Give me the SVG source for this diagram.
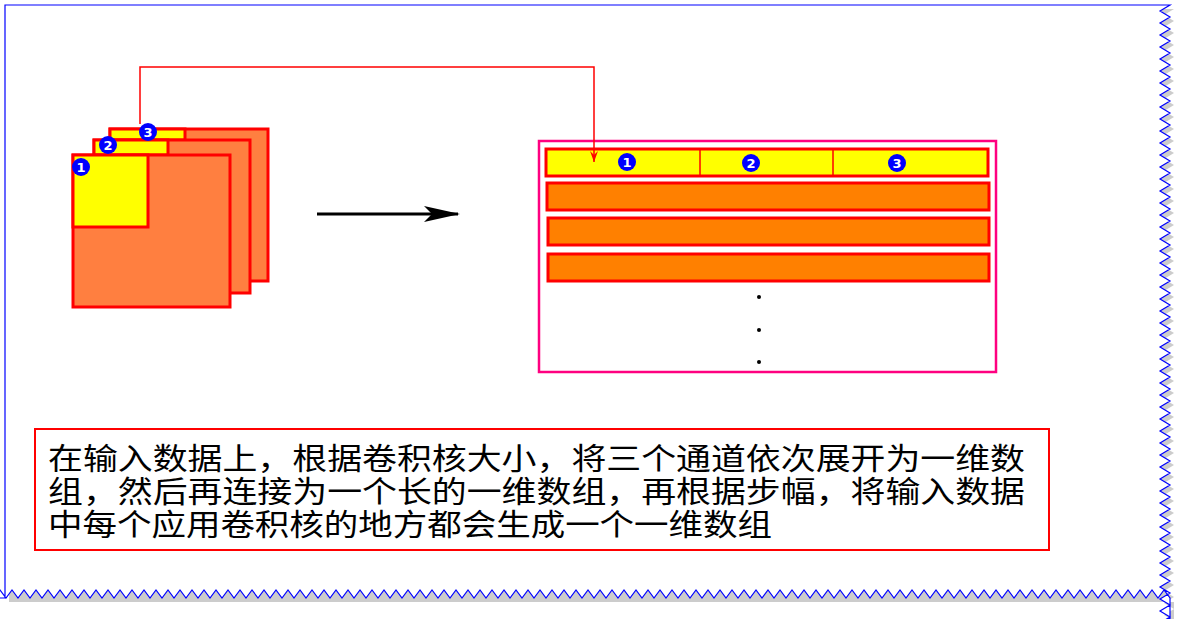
<svg xmlns="http://www.w3.org/2000/svg" width="1192" height="619" viewBox="0 0 1192 619">
<defs>
<style>
.ch{font-family:"Noto Sans CJK SC","Noto Sans",sans-serif;font-size:30px;fill:#000}
.num{font-family:"DejaVu Sans",sans-serif;font-size:13px;font-weight:bold;fill:#fff;text-anchor:middle}
.lay{fill:#ff7f40;stroke:#ff0000;stroke-width:3}
.yl{fill:#ffff00;stroke:#ff0000;stroke-width:3}
.bar{fill:#ff8000;stroke:#ff0000;stroke-width:3}
.dot{fill:#0000ff}
</style>
<marker id="ar" markerWidth="10" markerHeight="12" refX="5" refY="11" orient="0" markerUnits="userSpaceOnUse"><path d="M1,0 L5,11 L9,0 L5,4 z" fill="#ff0000"/></marker>
<marker id="ab" markerWidth="36" markerHeight="20" refX="34" refY="10" orient="auto" markerUnits="userSpaceOnUse"><path d="M0,2 L36,10 L0,18 L8,10 z" fill="#000"/></marker>
</defs>
<g id="frame">
<path transform="translate(4,4)" fill="#999" opacity="0.5" d="M1170,5 l-10 6 l10 6 l-10 6 l10 6 l-10 6 l10 6 l-10 6 l10 6 l-10 6 l10 6 l-10 6 l10 6 l-10 6 l10 6 l-10 6 l10 6 l-10 6 l10 6 l-10 6 l10 6 l-10 6 l10 6 l-10 6 l10 6 l-10 6 l10 6 l-10 6 l10 6 l-10 6 l10 6 l-10 6 l10 6 l-10 6 l10 6 l-10 6 l10 6 l-10 6 l10 6 l-10 6 l10 6 l-10 6 l10 6 l-10 6 l10 6 l-10 6 l10 6 l-10 6 l10 6 l-10 6 l10 6 l-10 6 l10 6 l-10 6 l10 6 l-10 6 l10 6 l-10 6 l10 6 l-10 6 l10 6 l-10 6 l10 6 l-10 6 l10 6 l-10 6 l10 6 l-10 6 l10 6 l-10 6 l10 6 l-10 6 l10 6 l-10 6 l10 6 l-10 6 l10 6 l-10 6 l10 6 l-10 6 l10 6 l-10 6 l10 6 l-10 6 l10 6 l-10 6 l10 6 l-10 6 l10 6 l-10 6 l10 6 l-10 6 l10 6 l-10 6 l10 6 l-10 6 l10 6 l-10 6 l10 6 l-10 6 l10 6 l-10 6 l10 6 l-10 6 l10 6 l-10 6 l10 6 L1170,598 L5,598 L5,5 z"/>
<path fill="#fff" stroke="#0000ff" stroke-width="1.2" d="M5,5 L1170,5 l-10 6 l10 6 l-10 6 l10 6 l-10 6 l10 6 l-10 6 l10 6 l-10 6 l10 6 l-10 6 l10 6 l-10 6 l10 6 l-10 6 l10 6 l-10 6 l10 6 l-10 6 l10 6 l-10 6 l10 6 l-10 6 l10 6 l-10 6 l10 6 l-10 6 l10 6 l-10 6 l10 6 l-10 6 l10 6 l-10 6 l10 6 l-10 6 l10 6 l-10 6 l10 6 l-10 6 l10 6 l-10 6 l10 6 l-10 6 l10 6 l-10 6 l10 6 l-10 6 l10 6 l-10 6 l10 6 l-10 6 l10 6 l-10 6 l10 6 l-10 6 l10 6 l-10 6 l10 6 l-10 6 l10 6 l-10 6 l10 6 l-10 6 l10 6 l-10 6 l10 6 l-10 6 l10 6 l-10 6 l10 6 l-10 6 l10 6 l-10 6 l10 6 l-10 6 l10 6 l-10 6 l10 6 l-10 6 l10 6 l-10 6 l10 6 l-10 6 l10 6 l-10 6 l10 6 l-10 6 l10 6 l-10 6 l10 6 l-10 6 l10 6 l-10 6 l10 6 l-10 6 l10 6 l-10 6 l10 6 l-10 6 l10 6 l-10 6 l10 6 l-10 6 l10 6 L1170,598 l-6 -8 l-6 8 l-6 -8 l-6 8 l-6 -8 l-6 8 l-6 -8 l-6 8 l-6 -8 l-6 8 l-6 -8 l-6 8 l-6 -8 l-6 8 l-6 -8 l-6 8 l-6 -8 l-6 8 l-6 -8 l-6 8 l-6 -8 l-6 8 l-6 -8 l-6 8 l-6 -8 l-6 8 l-6 -8 l-6 8 l-6 -8 l-6 8 l-6 -8 l-6 8 l-6 -8 l-6 8 l-6 -8 l-6 8 l-6 -8 l-6 8 l-6 -8 l-6 8 l-6 -8 l-6 8 l-6 -8 l-6 8 l-6 -8 l-6 8 l-6 -8 l-6 8 l-6 -8 l-6 8 l-6 -8 l-6 8 l-6 -8 l-6 8 l-6 -8 l-6 8 l-6 -8 l-6 8 l-6 -8 l-6 8 l-6 -8 l-6 8 l-6 -8 l-6 8 l-6 -8 l-6 8 l-6 -8 l-6 8 l-6 -8 l-6 8 l-6 -8 l-6 8 l-6 -8 l-6 8 l-6 -8 l-6 8 l-6 -8 l-6 8 l-6 -8 l-6 8 l-6 -8 l-6 8 l-6 -8 l-6 8 l-6 -8 l-6 8 l-6 -8 l-6 8 l-6 -8 l-6 8 l-6 -8 l-6 8 l-6 -8 l-6 8 l-6 -8 l-6 8 l-6 -8 l-6 8 l-6 -8 l-6 8 l-6 -8 l-6 8 l-6 -8 l-6 8 l-6 -8 l-6 8 l-6 -8 l-6 8 l-6 -8 l-6 8 l-6 -8 l-6 8 l-6 -8 l-6 8 l-6 -8 l-6 8 l-6 -8 l-6 8 l-6 -8 l-6 8 l-6 -8 l-6 8 l-6 -8 l-6 8 l-6 -8 l-6 8 l-6 -8 l-6 8 l-6 -8 l-6 8 l-6 -8 l-6 8 l-6 -8 l-6 8 l-6 -8 l-6 8 l-6 -8 l-6 8 l-6 -8 l-6 8 l-6 -8 l-6 8 l-6 -8 l-6 8 l-6 -8 l-6 8 l-6 -8 l-6 8 l-6 -8 l-6 8 l-6 -8 l-6 8 l-6 -8 l-6 8 l-6 -8 l-6 8 l-6 -8 l-6 8 l-6 -8 l-6 8 l-6 -8 l-6 8 l-6 -8 l-6 8 l-6 -8 l-6 8 l-6 -8 l-6 8 l-6 -8 l-6 8 l-6 -8 l-6 8 l-6 -8 l-6 8 l-6 -8 l-6 8 l-6 -8 l-6 8 l-6 -8 l-6 8 l-6 -8 l-6 8 l-6 -8 l-6 8 l-6 -8 l-6 8 l-6 -8 l-6 8 l-6 -8 l-6 8 l-6 -8 l-6 8 l-6 -8 l-6 8 l-6 -8 l-6 8 l-6 -8 l-6 8 l-6 -8 l-6 8 l-6 -8 l-6 8 L5,598 z"/>
</g>
<g id="input">
<rect class="lay" x="110" y="129" width="158" height="152"/>
<rect class="yl" x="110" y="129" width="75" height="11"/>
<rect class="lay" x="94" y="140" width="156" height="153"/>
<rect class="yl" x="94" y="140" width="74" height="15"/>
<rect class="lay" x="73" y="155" width="157" height="152"/>
<rect class="yl" x="73" y="155" width="75" height="72"/>
<circle class="dot" cx="81" cy="167" r="9"/><text class="num" x="81" y="172">1</text>
<circle class="dot" cx="108" cy="145" r="9"/><text class="num" x="108" y="150">2</text>
<circle class="dot" cx="148" cy="132" r="9"/><text class="num" x="148" y="137">3</text>
</g>
<g id="output">
<rect x="539" y="141" width="457" height="231" fill="#fff" stroke="#ff0080" stroke-width="2.5"/>
<rect class="yl" x="546" y="149" width="442" height="27"/>
<line x1="700" y1="149" x2="700" y2="176" stroke="#ff0000" stroke-width="1.5"/>
<line x1="833" y1="149" x2="833" y2="176" stroke="#ff0000" stroke-width="1.5"/>
<circle class="dot" cx="627" cy="162" r="9"/><text class="num" x="627" y="167">1</text>
<circle class="dot" cx="751" cy="163" r="9"/><text class="num" x="751" y="168">2</text>
<circle class="dot" cx="897" cy="163" r="9"/><text class="num" x="897" y="168">3</text>
<rect class="bar" x="547" y="183" width="442" height="27"/>
<rect class="bar" x="548" y="218" width="441" height="27"/>
<rect class="bar" x="548" y="254" width="441" height="27"/>
<circle cx="759" cy="297" r="2" fill="#000"/>
<circle cx="759" cy="330" r="2" fill="#000"/>
<circle cx="759" cy="362" r="2" fill="#000"/>
</g>
<g id="connectors">
<path d="M140,124 V67 H594 V162" fill="none" stroke="#ff0000" stroke-width="1.5" marker-end="url(#ar)"/>
<line x1="317" y1="214" x2="458" y2="214" stroke="#000" stroke-width="3" marker-end="url(#ab)"/>
</g>
<g id="caption">
<rect x="35" y="429" width="1014" height="121" fill="#fff" stroke="#ff0000" stroke-width="2"/>
<text class="ch" x="48" y="469" textLength="977" lengthAdjust="spacingAndGlyphs">在输入数据上，根据卷积核大小，将三个通道依次展开为一维数</text>
<text class="ch" x="48" y="502" textLength="977" lengthAdjust="spacingAndGlyphs">组，然后再连接为一个长的一维数组，再根据步幅，将输入数据</text>
<text class="ch" x="48" y="535" textLength="724" lengthAdjust="spacingAndGlyphs">中每个应用卷积核的地方都会生成一个一维数组</text>
</g>
</svg>
